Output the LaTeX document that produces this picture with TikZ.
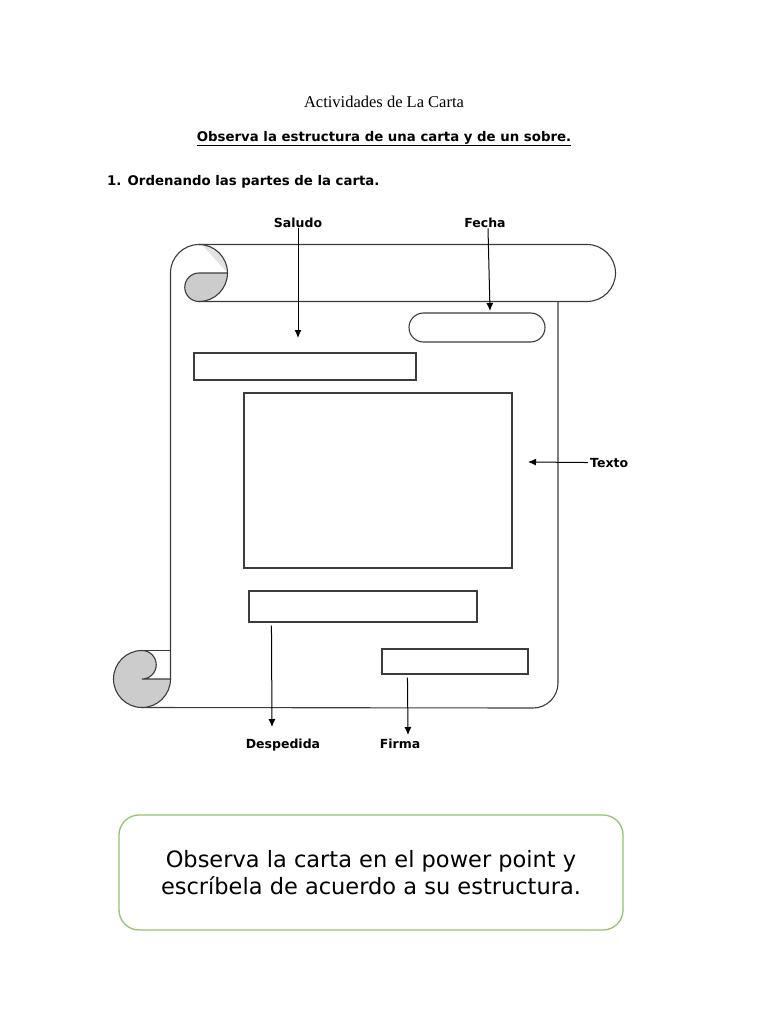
\documentclass[tikz,border=0pt]{standalone}
\usepackage{fontspec}
\setmainfont{Liberation Serif}
\newfontfamily\comicfont{DejaVu Sans}
\newfontfamily\notefont{DejaVu Sans}
\usetikzlibrary{arrows.meta}
\definecolor{scrollline}{RGB}{60,60,60}
\definecolor{curlgray}{RGB}{204,204,204}
\definecolor{foldgray}{RGB}{226,226,226}
\definecolor{boxgreen}{RGB}{150,195,110}
\begin{document}
\begin{tikzpicture}[x=1pt,y=-1pt,
  scroll/.style={draw=scrollline,line width=1.1pt},
  slot/.style={draw=scrollline,line width=1.1pt,inner sep=0},
  lbl/.style={font=\comicfont\bfseries\fontsize{12.5}{15}\selectfont,inner sep=0},
  headlbl/.style={font=\comicfont\bfseries\fontsize{13.3}{16}\selectfont,inner sep=0},
  arr/.style={-{Latex[length=8pt,width=7pt]},line width=1pt}]
\useasboundingbox (0,0) rectangle (768,1024);
\fill[white] (0,0) rectangle (768,1024);

% headings
\node[font=\fontsize{16.5}{19}\selectfont,inner sep=0,anchor=base] (title) at (384,108) {Actividades de La Carta};
\node[headlbl,anchor=base] (heading) at (384,142) {Observa la estructura de una carta y de un sobre.};
\draw[line width=0.9pt] ([yshift=-3pt]heading.base west) -- ([yshift=-3pt]heading.base east);
\node[headlbl,anchor=base west] (num) at (107,186) {1. Ordenando las partes de la carta.};

% scroll: top-left curl
\fill[curlgray] (199,273) -- (227.5,273) arc[start angle=0,end angle=90,radius=28.5]
  arc[start angle=90,end angle=270,radius=14.25] -- cycle;
\fill[foldgray] (199,273) ++(-84:28.5) arc[start angle=-84,end angle=0,radius=28.5] -- cycle;
\draw[scroll] (170.5,679) -- (170.5,273) arc[start angle=180,end angle=270,radius=28.5]
  -- (587,244.5) arc[start angle=-90,end angle=90,radius=28.5] -- (199,301.5);
\draw[scroll] (199,244.5) arc[start angle=-90,end angle=90,radius=28.5]
  arc[start angle=90,end angle=270,radius=14.25] -- (227.5,273);
% right edge and bottom
\draw[scroll] (558,301.5) -- (558,683) arc[start angle=0,end angle=90,radius=25] -- (142,707.5);
% bottom-left curl
\filldraw[scroll,fill=curlgray] (142,650.5) arc[start angle=270,end angle=0,radius=28.5]
  -- (142,679) arc[start angle=90,end angle=-90,radius=14.25] -- cycle;
\draw[scroll] (142,650.5) -- (170.5,650.5);

% boxes
\node[slot,minimum width=136pt,minimum height=29pt,rounded corners=14.5pt] (fechabox) at (477,327.5) {};
\node[slot,minimum width=222pt,minimum height=27pt] (saludobox) at (305,366.5) {};
\node[slot,minimum width=268pt,minimum height=175pt] (textobox) at (378,480.5) {};
\node[slot,minimum width=228pt,minimum height=31pt] (despbox) at (363,606.5) {};
\node[slot,minimum width=146pt,minimum height=25pt] (firmabox) at (455,661.5) {};

% labels and arrows
\node[lbl,anchor=base] (saludo) at (298,228) {Saludo};
\coordinate (saludotip) at (298,338);
\draw[arr] (saludo.south) -- (saludotip);

\node[lbl,anchor=base] (fecha) at (485,228) {Fecha};
\coordinate (fechatip) at (490,311);
\draw[arr] ([xshift=3pt]fecha.south) -- (fechatip);

\node[lbl,anchor=base west] (texto) at (590,467) {Texto};
\coordinate (textotip) at (528,462);
\draw[arr] ([xshift=-2pt]texto.west) -- (textotip);

\node[lbl,anchor=base] (desp) at (283,748) {Despedida};
\coordinate (desptip) at (272,727);
\draw[arr] ([xshift=23pt,yshift=-3pt]despbox.south west) -- (desptip);

\node[lbl,anchor=base] (firma) at (400,748) {Firma};
\coordinate (firmatip) at (408,735);
\draw[arr] ([xshift=26pt,yshift=-3pt]firmabox.south west) -- (firmatip);

% note box
\node[draw=boxgreen,line width=1.3pt,rounded corners=20pt,minimum width=504pt,minimum height=115pt,
  inner sep=0,align=center,font=\notefont\fontsize{22.5}{26.5}\selectfont] (note) at (371,872.5)
  {Observa la carta en el power point y\\escríbela de acuerdo a su estructura.};
\end{tikzpicture}
\end{document}
